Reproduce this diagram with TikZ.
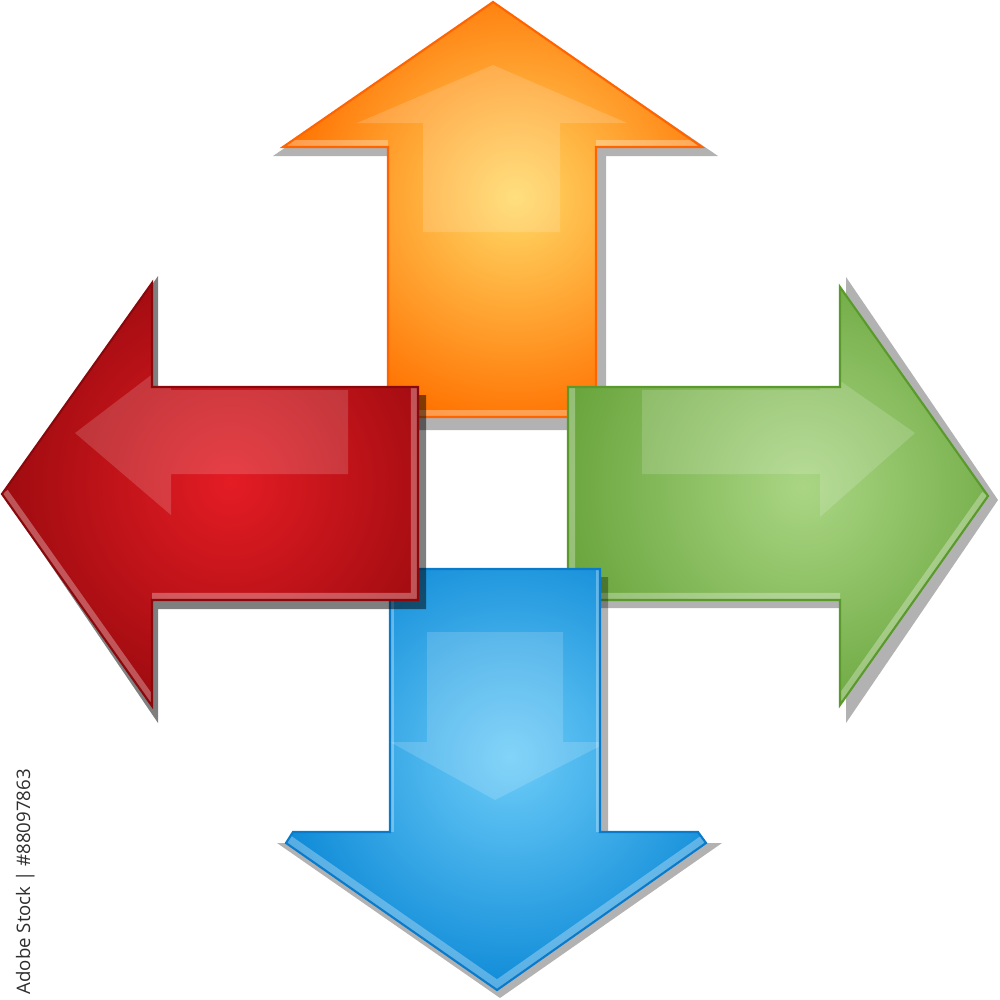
\documentclass[tikz,border=0pt]{standalone}
\usepackage{fontspec}
\setmainfont{Open Sans}
\definecolor{upin}{HTML}{FFD966}
\definecolor{upout}{HTML}{FF7100}
\definecolor{upline}{HTML}{FF6400}
\definecolor{leftin}{HTML}{E41C24}
\definecolor{leftout}{HTML}{990A0E}
\definecolor{leftline}{HTML}{8A080C}
\definecolor{rightin}{HTML}{AAD684}
\definecolor{rightout}{HTML}{67A33A}
\definecolor{rightline}{HTML}{5A9A2C}
\definecolor{downin}{HTML}{6CCCF8}
\definecolor{downout}{HTML}{0B88D6}
\definecolor{downline}{HTML}{0A7BCB}
\definecolor{idgray}{HTML}{2E2E2E}

\begin{document}
\begin{tikzpicture}[x=0.01cm,y=-0.01cm,
    dropgray/.style={fill=black,opacity=#1}, dropgray/.default=.3,
    rim/.style={draw=#1,line width=.6pt,line join=miter},
    bevel/.style={draw=white,opacity=.3,line width=4pt},
    gloss/.style={fill=white,opacity=.16}]
  \fill[white] (0,0) rectangle (999,1000);
  \useasboundingbox (0,0) rectangle (999,1000);

  % up arrow
  \coordinate (u1) at (493,2);
  \coordinate (u2) at (702,147);
  \coordinate (u3) at (596,147);
  \coordinate (u4) at (596,417);
  \coordinate (u5) at (388,417);
  \coordinate (u6) at (388,147);
  \coordinate (u7) at (283,147);
  \fill[dropgray] (495,4) -- (718,156) -- (606,156) -- (606,430) -- (396,430) -- (396,156) -- (273,156) -- cycle;
  \begin{scope}
    \clip (u1) -- (u2) -- (u3) -- (u4) -- (u5) -- (u6) -- (u7) -- cycle;
    \fill[upout] (250,0) rectangle (750,450);
    \shade[inner color=upin,outer color=upout] (515,197) circle (235);
    \fill[gloss] (493,65) -- (627,123) -- (560,123) -- (560,232) -- (423,232) -- (423,123) -- (357,123) -- cycle;
    \draw[bevel] (u7) -- (u6) (u5) -- (u4) (u3) -- (u2);
  \end{scope}
  \draw[rim=upline] (u1) -- (u2) -- (u3) -- (u4) -- (u5) -- (u6) -- (u7) -- cycle;

  % right arrow
  \coordinate (g1) at (568,387);
  \coordinate (g2) at (840,387);
  \coordinate (g3) at (840,287);
  \coordinate (g4) at (988,496);
  \coordinate (g5) at (840,705);
  \coordinate (g6) at (840,600);
  \coordinate (g7) at (568,600);
  \fill[dropgray] (576,395) -- (846,395) -- (846,277) -- (998,500) -- (846,723) -- (846,608) -- (576,608) -- cycle;
  \begin{scope}
    \clip (g1) -- (g2) -- (g3) -- (g4) -- (g5) -- (g6) -- (g7) -- cycle;
    \fill[rightout] (550,270) rectangle (999,720);
    \shade[inner color=rightin,outer color=rightout] (803,487) circle (255);
    \fill[gloss] (642,390) -- (820,390) -- (820,367) -- (915,433) -- (820,517) -- (820,474) -- (642,474) -- cycle;
    \draw[bevel] (g4) -- (g5) (g6) -- (g7) -- (g1);
  \end{scope}
  \draw[rim=rightline] (g1) -- (g2) -- (g3) -- (g4) -- (g5) -- (g6) -- (g7) -- cycle;

  % down arrow
  \coordinate (d1) at (390,569);
  \coordinate (d2) at (600,569);
  \coordinate (d3) at (600,832);
  \coordinate (d4) at (698,832);
  \coordinate (d5) at (706,843);
  \coordinate (d6) at (497,990);
  \coordinate (d7) at (286,843);
  \coordinate (d8) at (293,832);
  \coordinate (d9) at (390,832);
  \fill[dropgray] (398,577) -- (608,577) -- (608,843) -- (722,843) -- (500,998) -- (277,843) -- (398,843) -- cycle;
  \begin{scope}
    \clip (d1) -- (d2) -- (d3) -- (d4) -- (d5) -- (d6) -- (d7) -- (d8) -- (d9) -- cycle;
    \fill[downout] (270,550) rectangle (730,1000);
    \shade[inner color=downin,outer color=downout] (510,757) circle (245);
    \fill[gloss] (427,632) -- (563,632) -- (563,742) -- (608,742) -- (495,800) -- (390,742) -- (427,742) -- cycle;
    \draw[bevel,line width=5pt] (d7) -- (d6) -- (d5);
    \draw[bevel,line width=2pt] (d1) -- (d9) (d2) -- (d3);
  \end{scope}
  \draw[rim=downline] (d1) -- (d2) -- (d3) -- (d4) -- (d5) -- (d6) -- (d7) -- (d8) -- (d9) -- cycle;

  % left arrow
  \coordinate (l1) at (2,494);
  \coordinate (l2) at (152,283);
  \coordinate (l3) at (152,387);
  \coordinate (l4) at (418,387);
  \coordinate (l5) at (418,600);
  \coordinate (l6) at (152,600);
  \coordinate (l7) at (152,706);
  \fill[dropgray=.5] (5,498) -- (158,276) -- (158,395) -- (426,395) -- (426,609) -- (158,609) -- (158,723) -- cycle;
  \begin{scope}
    \clip (l1) -- (l2) -- (l3) -- (l4) -- (l5) -- (l6) -- (l7) -- cycle;
    \fill[leftout] (0,270) rectangle (440,720);
    \shade[inner color=leftin,outer color=leftout] (230,483) circle (245);
    \fill[gloss] (75,433) -- (171,360) -- (171,390) -- (348,390) -- (348,474) -- (171,474) -- (171,515) -- cycle;
    \draw[bevel] (l1) -- (l7) (l6) -- (l5) -- (l4);
  \end{scope}
  \draw[rim=leftline] (l1) -- (l2) -- (l3) -- (l4) -- (l5) -- (l6) -- (l7) -- cycle;

  \node[rotate=90,anchor=base west,inner sep=0pt,text=idgray,font=\fontsize{5.3}{6}\selectfont] (stockid) at (30,995) {Adobe Stock | \#88097863};
\end{tikzpicture}
\end{document}
